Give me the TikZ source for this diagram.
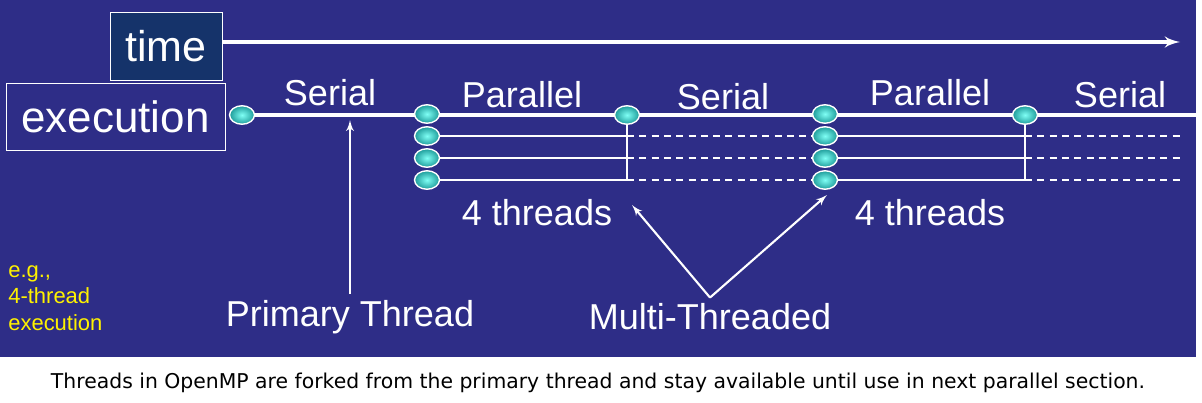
\documentclass[tikz,border=0pt]{standalone}
\usepackage{fontspec}
\setmainfont{Liberation Sans}
\newfontfamily\capfont{DejaVu Sans}
\usetikzlibrary{shapes.geometric,arrows}
\definecolor{slide}{HTML}{2E2D87}
\definecolor{timebox}{HTML}{15336A}
\definecolor{ballin}{HTML}{7FFFF5}
\definecolor{ballout}{HTML}{1E9C9A}
\tikzstyle{ball} = [ellipse, draw=white, line width=0.8pt, inner color=ballin, outer color=ballout, minimum width=0.5cm, minimum height=0.37cm, inner sep=0pt]
\tikzstyle{phase} = [text=white, font=\fontsize{20.5}{23}\selectfont]
\tikzstyle{thin} = [draw=white, line width=0.6pt]
\tikzstyle{dots} = [draw=white, line width=0.6pt, dash pattern=on 4pt off 3pt]
\tikzstyle{line} = [draw=white, line width=1.2pt, -latex']
\begin{document}
\begin{tikzpicture}[x=0.02cm, y=-0.02cm]
	\useasboundingbox (0,0) rectangle (1202,402);
	\fill[slide] (0,0) rectangle (1196,357);
	\node [draw=white, fill=timebox, text=white, minimum width=2.24cm, minimum height=1.36cm, font=\fontsize{24.5}{26}\selectfont] (time) at (166,46) {time};
	\node [draw=white, text=white, minimum width=4.38cm, minimum height=1.34cm, font=\fontsize{25}{27}\selectfont] (exec) at (115.5,116.5) {execution};
	\coordinate (tend) at (1180,42);
	\draw [line, line width=2pt] (time.east |- tend) -- (tend);
	% main thread
	\coordinate (mend) at (1196,115);
	\draw [white, line width=2pt] (242,115) -- (mend);
	\node [ball] (start) at (242,115) {};
	\foreach \y [count=\i] in {114,136,158,180} {
		\node [ball] (fa\i) at (427,\y) {};
		\node [ball] (fb\i) at (825,\y) {};
	}
	\coordinate (ja) at (627,180);
	\coordinate (jb) at (1025,180);
	\foreach \i in {2,3,4} {
		\path [thin] (fa\i) -- (fa\i -| ja);
		\path [thin] (fb\i) -- (fb\i -| jb);
		\path [dots] (fa\i -| ja) -- (fb\i.west);
		\path [dots] (fb\i -| jb) -- (1180,0 |- fb\i);
	}
	\path [thin] (627,115) -- (ja);
	\path [thin] (1025,115) -- (jb);
	\node [ball] (joina) at (627,115) {};
	\node [ball] (joinb) at (1025,115) {};
	\node [phase] (s1) at (330,93) {Serial};
	\node [phase] (p1) at (522,95) {Parallel};
	\node [phase] (s2) at (723,97) {Serial};
	\node [phase] (p2) at (930,93) {Parallel};
	\node [phase] (s3) at (1120,95) {Serial};
	\node [phase] (t1) at (537,213) {4 threads};
	\node [phase] (t2) at (930,213) {4 threads};
	\node [phase] (primary) at (350,317) {Primary Thread};
	\node [phase] (multi) at (710,317) {Multi-Threaded};
	\path [line] (primary.north) -- (350,120);
	\path [line] (multi.north) -- (632,205);
	\path [line] (multi.north) -- (827,195);
	\node [text=yellow, align=left, anchor=west, inner sep=0pt, font=\fontsize{12.5}{15}\selectfont] (eg) at (8,298) {e.g.,\\4-thread\\execution};
	\node [font=\capfont\fontsize{11.6}{13}\selectfont] (caption) at (598,383) {Threads in OpenMP are forked from the primary thread and stay available until use in next parallel section.};
\end{tikzpicture}
\end{document}
